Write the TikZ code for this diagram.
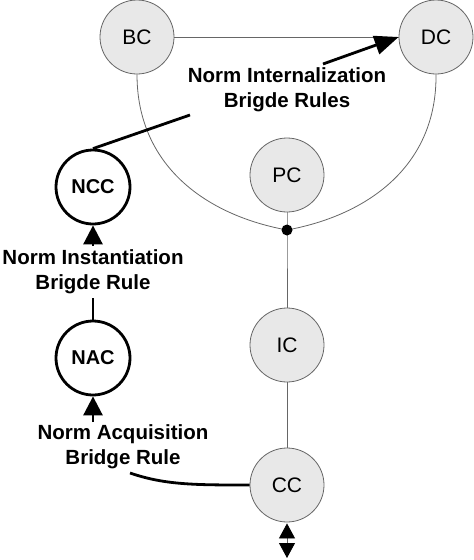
\documentclass[tikz,border=0pt]{standalone}
\usepackage{fontspec}
\setmainfont{Liberation Sans}
\usetikzlibrary{arrows.meta}
\begin{document}
\begin{tikzpicture}[x=1pt,y=-1pt,
  ctx/.style={circle,draw=black!60,fill=black!9,line width=0.8pt,minimum size=74pt,inner sep=0pt,font=\fontsize{21}{21}\selectfont},
  nrm/.style={circle,draw=black,line width=2.8pt,minimum size=74pt,inner sep=0pt,font=\bfseries\fontsize{20}{20}\selectfont},
  lbl/.style={align=center,font=\bfseries\fontsize{20.5}{25}\selectfont,inner sep=0pt},
  thinline/.style={draw=black!60,line width=0.8pt},
  thickline/.style={draw=black,line width=2.8pt},
  tip/.style={-{Triangle[length=19pt,width=19pt]}}]
\useasboundingbox (0,0) rectangle (474,560);
\node[ctx] (BC) at (137,37) {BC};
\node[ctx] (DC) at (436,37) {DC};
\node[ctx] (PC) at (287,175) {PC};
\node[ctx] (IC) at (287,345) {IC};
\node[ctx] (CC) at (287,485) {CC};
\node[nrm] (NCC) at (93,187) {NCC};
\node[nrm] (NAC) at (93,358) {NAC};
\coordinate (J) at (287,230);
\coordinate (E) at (287,558);
\node[lbl] (NI) at (287,90) {Norm Internalization\\Brigde Rules};
\node[lbl] (NS) at (93,272) {Norm Instantiation\\Brigde Rule};
\node[lbl] (NA) at (123,447) {Norm Acquisition\\Bridge Rule};
% thin connectors
\draw[thinline] (BC) -- (DC);
\draw[thinline] (BC.south) .. controls (137,165) and (205,215) .. (J);
\draw[thinline] (DC.south) .. controls (437,165) and (369,215) .. (J);
\draw[thinline] (PC) -- (J) -- (IC) -- (CC);
\fill (J) circle (5.5pt);
\draw[thinline,{Triangle[length=15pt,width=16pt,fill=black,color=black]}-{Triangle[length=15pt,width=16pt,fill=black,color=black]}] (CC.south) ++(0,1) coordinate (C1) (C1) -- (E);
% thick connectors
\draw[thickline,-{Triangle[length=24pt,width=19pt]}] (323,64) -- (DC.west);
\draw[thickline] (190,115) -- (NCC.north);
\draw[thickline,tip] (NS.north) ++(0,-4) coordinate (S1) (S1) -- (NCC.south);
\draw[thickline] (NAC.north) -- (93,298);
\draw[thickline,tip] (93,422) -- (NAC.south);
\draw[thickline] (130,473) .. controls (165,485) and (195,485) .. (CC.west);
\end{tikzpicture}
\end{document}
